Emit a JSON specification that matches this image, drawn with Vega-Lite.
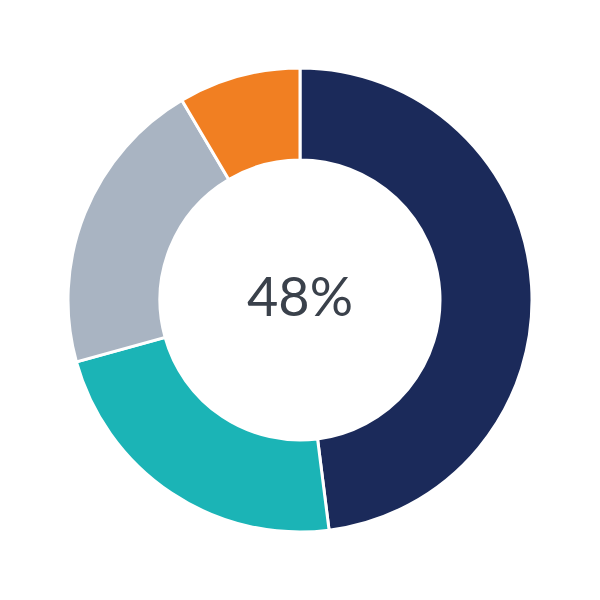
{
  "$schema": "https://vega.github.io/schema/vega-lite/v6.json",
  "width": 600,
  "height": 600,
  "autosize": {"type": "fit", "contains": "padding"},
  "padding": 0,
  "view": {"stroke": null},
  "background": "white",
  "layer": [
    {
      "data": {
        "values": [
          {"segment": "A", "share": 48, "rank": 1},
          {"segment": "B", "share": 22.7, "rank": 2},
          {"segment": "C", "share": 20.8, "rank": 3},
          {"segment": "D", "share": 8.5, "rank": 4}
        ]
      },
      "mark": {"type": "arc", "outerRadius": 232, "innerRadius": 140, "stroke": "white", "strokeWidth": 3},
      "encoding": {
        "theta": {"field": "share", "type": "quantitative", "stack": true},
        "order": {"field": "rank", "type": "quantitative"},
        "color": {
          "field": "segment",
          "type": "nominal",
          "legend": null,
          "scale": {"domain": ["A", "B", "C", "D"], "range": ["#1b2a5a", "#1bb4b6", "#a9b4c2", "#f17f22"]}
        }
      }
    },
    {
      "data": {"values": [{"label": "48%"}]},
      "mark": {"type": "text", "font": "Lato", "fontSize": 54, "fontWeight": 400, "color": "#3a414b", "baseline": "middle", "align": "center", "dy": 0},
      "encoding": {"text": {"field": "label"}}
    }
  ]
}
